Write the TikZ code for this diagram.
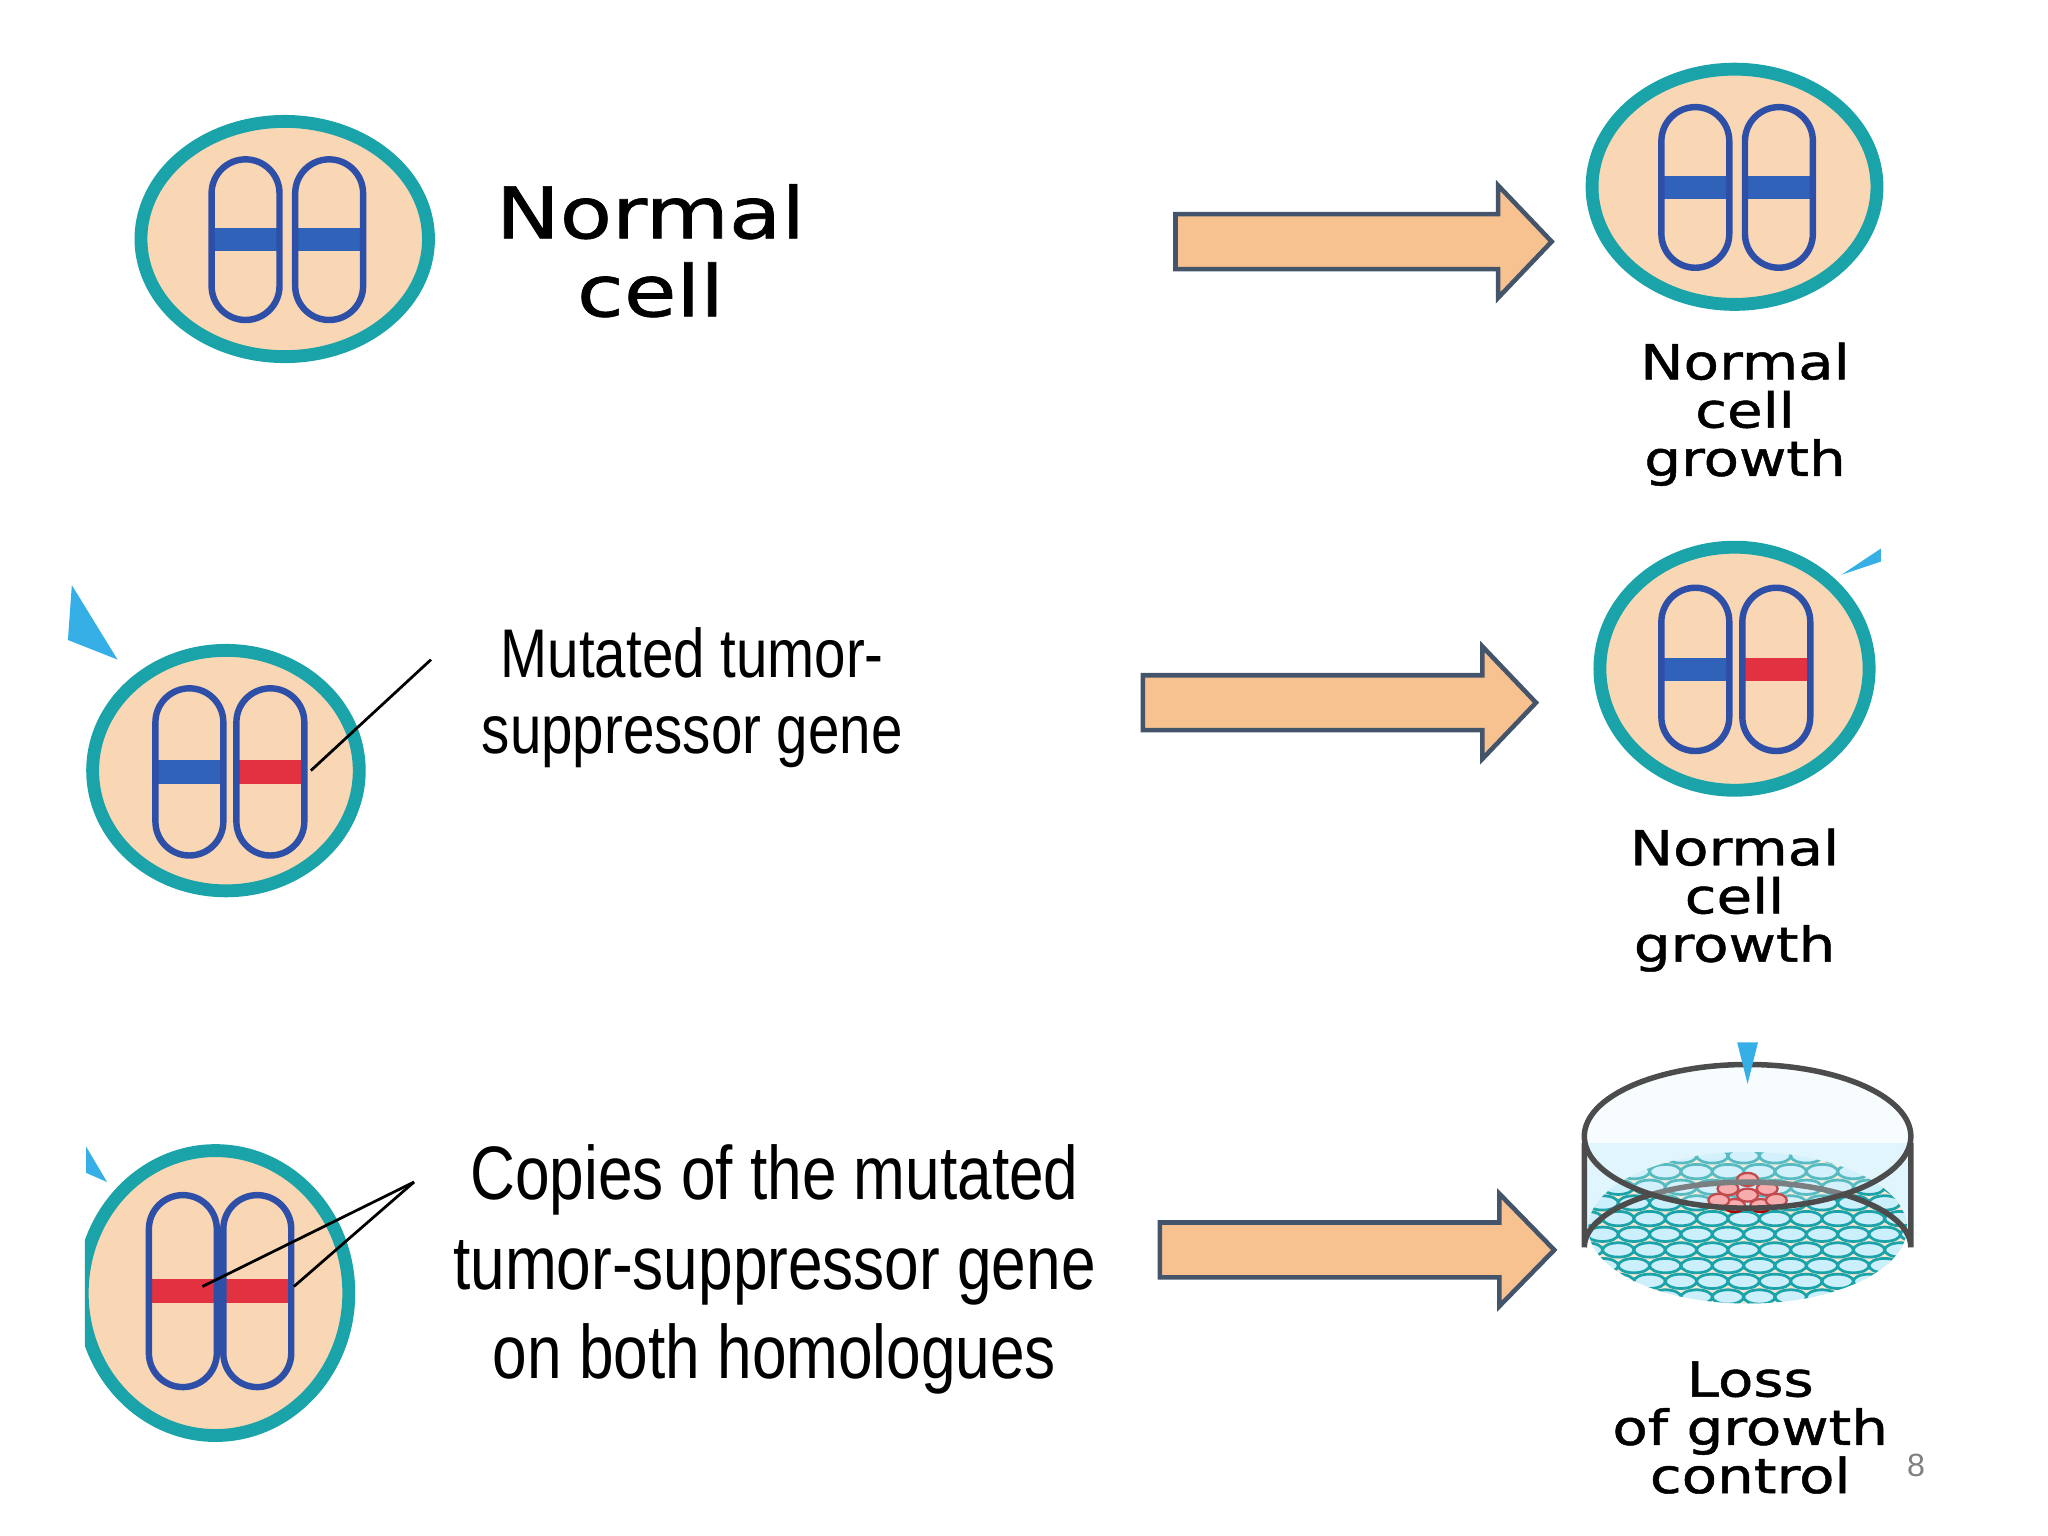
\documentclass[tikz,border=0pt]{standalone}
\usepackage{fontspec}
\setmainfont{Liberation Sans}
\newfontfamily\wide{DejaVu Sans}[FakeStretch=1.2,FakeBold=1]
\newfontfamily\narrow{Liberation Sans}[FakeStretch=0.82]
\usetikzlibrary{positioning,shapes.geometric}
\definecolor{peach}{HTML}{F9D6B4}
\definecolor{cellteal}{HTML}{1AA3A8}
\definecolor{chromblue}{HTML}{2E4FA8}
\definecolor{bandblue}{HTML}{2F62B8}
\definecolor{bandred}{HTML}{E2313F}
\definecolor{arrowfill}{HTML}{F8C190}
\definecolor{arrowline}{HTML}{44546A}
\definecolor{shard}{HTML}{36AEE6}
\tikzstyle{cell}=[draw=cellteal,fill=peach,line width=2.8pt,ellipse,inner sep=0pt]
\tikzstyle{chrom}=[draw=chromblue,line width=1.4pt,rounded corners=0.26cm]
\tikzstyle{fat arrow}=[draw=arrowline,fill=arrowfill,line width=1pt]
\tikzstyle{big label}=[font=\narrow\fontsize{16.5}{19.5}\selectfont,align=center]
\tikzstyle{mid label}=[font=\narrow\fontsize{15}{16.5}\selectfont,align=center]
\tikzstyle{wide label}=[font=\wide\fontsize{10.5}{10.5}\selectfont,align=center]
\tikzstyle{pointer}=[draw=black,line width=0.6pt]
% chromosome: x, top, bottom, band colour
\newcommand\chrom[4]{%
  \fill[#4] (#1-26,{(#2+#3)/2-9}) rectangle (#1+26,{(#2+#3)/2+9});
  \draw[chrom] (#1-26,#2) rectangle (#1+26,#3);}
\newcommand\fatarrow[5]{% x0, x1, xtip, ymid, name
  \draw[fat arrow] (#1,#4-21) -- (#2,#4-21) -- (#2,#4-43) -- (#3,#4)
     -- (#2,#4+43) -- (#2,#4+21) -- (#1,#4+21) -- cycle;
  \coordinate (#5) at (#3,#4);}
\begin{document}
\begin{tikzpicture}[x=0.01cm,y=-0.01cm]
    \useasboundingbox (0,0) rectangle (1568,1176);
    % row 1
    \node[cell,minimum width=2.2cm,minimum height=1.8cm] (c1) at (218,183) {};
    \chrom{188}{122}{245}{bandblue}
    \chrom{252}{122}{245}{bandblue}
    \node[wide label,font=\wide\fontsize{15.5}{17}\selectfont] (t1) at (498,192) {Normal\\cell};
    \fatarrow{900}{1147}{1188}{185}{a1}
    \node[cell,minimum width=2.18cm,minimum height=1.8cm] (r1) at (1328,143) {};
    \chrom{1298}{82}{205}{bandblue}
    \chrom{1362}{82}{205}{bandblue}
    \node[wide label,below=0.12cm of r1.south,xshift=0.08cm] (g1) {Normal\\cell\\growth};
    % row 2
    \fill[shard] (55,448) -- (90,505) -- (52,490) -- cycle;
    \node[cell,minimum width=2.04cm,minimum height=1.84cm] (c2) at (173,590) {};
    \chrom{145}{527}{655}{bandblue}
    \chrom{207}{527}{655}{bandred}
    \node[mid label] (t2) at (530,534) {Mutated tumor-\\suppressor gene};
    \coordinate (p2) at (238,590);
    \path[pointer] (p2) -- (330,505);
    \fatarrow{875}{1135}{1176}{538}{a2}
    \fill[shard] (1410,440) -- (1440,420) -- (1440,430) -- cycle;
    \node[cell,minimum width=2.06cm,minimum height=1.86cm] (r2) at (1328,512) {};
    \chrom{1298}{450}{575}{bandblue}
    \chrom{1360}{450}{575}{bandred}
    \node[wide label,below=0.12cm of r2.south] (g2) {Normal\\cell\\growth};
    % row 3
    \fill[shard] (66,878) -- (82,905) -- (66,898) -- cycle;
    \begin{scope}
        \clip (65,850) rectangle (400,1120);
        \node[cell,minimum width=2.04cm,minimum height=2.18cm] (c3) at (165,990) {};
    \end{scope}
    \chrom{140}{915}{1062}{bandred}
    \chrom{197}{915}{1062}{bandred}
    \node[big label] (t3) at (593,972)
        {Copies of the mutated\\tumor-suppressor gene\\on both homologues};
    \coordinate (p3) at (317,905);
    \path[pointer] (p3) -- (155,985);
    \path[pointer] (p3) -- (225,985);
    \fatarrow{888}{1148}{1190}{957}{a3}
    % dish
    \fill[cyan!12] (1213,875) -- (1213,955) arc[start angle=180,end angle=360,x radius=125,y radius=50] -- (1463,875) -- cycle;
    \begin{scope}
        \clip (1338,940) ellipse[x radius=122,y radius=58];
        \fill[peach!60] (1200,870) rectangle (1480,1010);
        \foreach \i in {0,...,10}
            \foreach \j in {0,...,9}
                \draw[cellteal,fill=cyan!20,line width=0.6pt] ({1215+\i*24+mod(\j,2)*12},{885+\j*12}) ellipse[x radius=12,y radius=5.5];
    \end{scope}
    \foreach \dx/\dy in {0/0,-15/-5,15/-5,-10/8,10/8,0/-12,22/4,-22/4}
        \draw[red!70!black,fill=red!45,line width=0.5pt] (1338+\dx,915+\dy) ellipse[x radius=8,y radius=5];
    \draw[gray!60!black,line width=1.2pt] (1213,875) -- (1213,955)
        arc[start angle=180,end angle=360,x radius=125,y radius=50] -- (1463,875);
    \draw[gray!60!black,fill=cyan!10,fill opacity=0.3,line width=1.2pt] (1338,870) ellipse[x radius=125,y radius=55];
    \fill[shard] (1330,798) -- (1346,798) -- (1338,830) -- cycle;
    \node[wide label] (g3) at (1340,1093) {Loss\\of growth\\control};
    \node[font=\fontsize{7}{8}\selectfont,text=gray] (pg) at (1467,1122) {8};
\end{tikzpicture}
\end{document}
